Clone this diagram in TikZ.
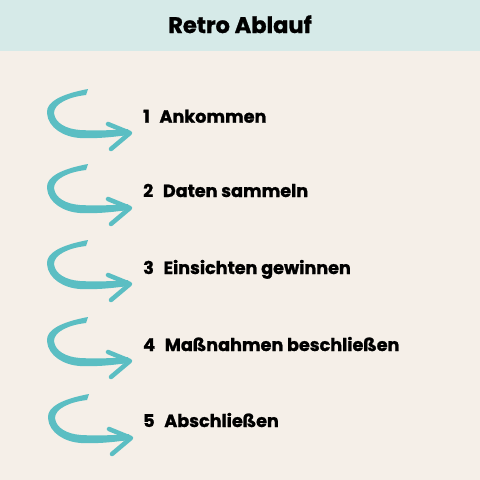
\documentclass[tikz,border=0pt]{standalone}
\usepackage{fontspec}
\setmainfont{Poppins}[BoldFeatures={FakeBold=1.2}]
\usetikzlibrary{positioning}
\definecolor{bgcream}{HTML}{F5EFE8}
\definecolor{headmint}{HTML}{D6EAE8}
\definecolor{swoosh}{HTML}{5BBEC3}

\tikzset{swooshpic/.pic = {
	\fill[swoosh] (2,-1) .. controls (-25,4) and (-40,12) .. (-39,23) .. controls (-38,38) and (-22,47) .. (-6,48) .. controls (15,49) and (32,46) .. (44,45) -- (42,39) .. controls (30,40) and (12,41) .. (-6,40) .. controls (-20,39) and (-31,33) .. (-32,23) .. controls (-32,14) and (-18,7) .. (0,5) -- cycle;
	\draw[swoosh, line width=4.5pt, line cap=round, line join=round] (22,34) -- (44,43) -- (25,59);
}}

\begin{document}
\begin{tikzpicture}[x=1pt, y=-1pt, steptext/.style = {anchor=base west, inner sep=0pt, font=\fontsize{17.6}{20}\selectfont\bfseries}, title/.style = {anchor=base, inner sep=0pt, font=\fontsize{22.5}{24}\selectfont\bfseries}]
	\fill[bgcream] (0,0) rectangle (480,480);
	\fill[headmint] (0,0) rectangle (480,51);
	\useasboundingbox (0,0) rectangle (480,480);
	\node[title] (head) at (240,33) {Retro Ablauf};

	\node[steptext] (s1) at (143,122.7) {1\hspace{0.55em}Ankommen};
	\node[steptext] (s2) at (143,197) {2\hspace{0.55em}Daten sammeln};
	\node[steptext] (s3) at (143,274) {3\hspace{0.55em}Einsichten gewinnen};
	\node[steptext] (s4) at (143,351) {4\hspace{0.55em}Maßnahmen beschließen};
	\node[steptext] (s5) at (143,427) {5\hspace{0.55em}Abschließen};

	\pic at (86,90) {swooshpic};
	\pic at (86,165) {swooshpic};
	\pic at (86,241) {swooshpic};
	\pic at (86,318) {swooshpic};
	\pic at (87,395) {swooshpic};
\end{tikzpicture}
\end{document}
